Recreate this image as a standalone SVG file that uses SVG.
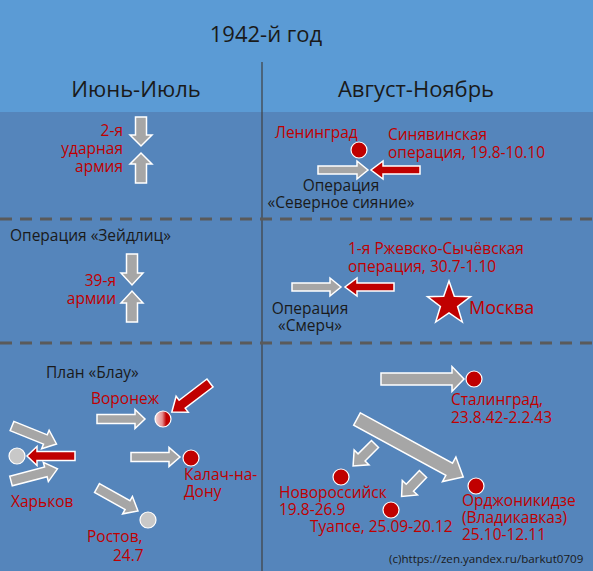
<svg xmlns="http://www.w3.org/2000/svg" width="593" height="571" viewBox="0 0 593 571">
<style>
text{font-family:"Open Sans","DejaVu Sans",sans-serif;font-size:15.5px}
.k{fill:#1a1a1a}
.r{fill:#c00000}
.h{font-size:22px;fill:#1a1a1a}
.g{fill:#a6a6a6;stroke:#fff;stroke-width:1.5}
.rd{fill:#c00000;stroke:#fff;stroke-width:1.5}
.dot{fill:#c00000;stroke:#fff;stroke-width:1.2}
.gdot{fill:#c8c8c8;stroke:#fff;stroke-width:1.2}
.dash{stroke:#5a5a5a;stroke-width:3;stroke-dasharray:12 8;fill:none}
</style>
<defs>
<linearGradient id="vg" x1="0" y1="0" x2="1" y2="0">
<stop offset="0" stop-color="#f6dada"/>
<stop offset="0.45" stop-color="#e59090"/>
<stop offset="0.7" stop-color="#c00000"/>
<stop offset="1" stop-color="#c00000"/>
</linearGradient>
</defs>
<rect x="0" y="0" width="593" height="112" fill="#5b9bd5"/>
<rect x="0" y="112" width="593" height="459" fill="#5585bb"/>
<g id="lines">
<line x1="262" y1="62" x2="262" y2="571" stroke="#404040" stroke-width="1.2"/>
<line class="dash" x1="0" y1="219" x2="593" y2="219"/>
<line class="dash" x1="0" y1="343" x2="593" y2="343"/>
</g>
<g id="header">
<text class="h" x="266" y="42" text-anchor="middle">1942-й год</text>
<text class="h" x="136" y="97" text-anchor="middle">Июнь-Июль</text>
<text class="h" x="416" y="97" text-anchor="middle">Август-Ноябрь</text>
</g>
<g id="connectors">
<path class="g" transform="translate(141,117) rotate(90)" d="M0,-5.5 L18,-5.5 L18,-11 L29,0 L18,11 L18,5.5 L0,5.5 Z"/>
<path class="g" transform="translate(141,183) rotate(-90)" d="M0,-5.5 L19,-5.5 L19,-11 L30,0 L19,11 L19,5.5 L0,5.5 Z"/>
<path class="g" transform="translate(318,170)" d="M0,-4 L39,-4 L39,-9 L50,0 L39,9 L39,4 L0,4 Z"/>
<path class="rd" transform="translate(420,170) rotate(180)" d="M0,-4 L37,-4 L37,-9 L49,0 L37,9 L37,4 L0,4 Z"/>
<path class="g" transform="translate(132,254) rotate(90)" d="M0,-5.5 L19,-5.5 L19,-11 L31,0 L19,11 L19,5.5 L0,5.5 Z"/>
<path class="g" transform="translate(132,322) rotate(-90)" d="M0,-5.5 L19,-5.5 L19,-11 L31,0 L19,11 L19,5.5 L0,5.5 Z"/>
<path class="g" transform="translate(292,287)" d="M0,-4 L38,-4 L38,-9 L49,0 L38,9 L38,4 L0,4 Z"/>
<path class="rd" transform="translate(394,287) rotate(180)" d="M0,-4 L37,-4 L37,-9 L49,0 L37,9 L37,4 L0,4 Z"/>
<path class="g" transform="translate(97,419)" d="M0,-4.5 L38,-4.5 L38,-9.5 L48,0 L38,9.5 L38,4.5 L0,4.5 Z"/>
<path class="rd" transform="translate(210,383) rotate(142.7)" d="M0,-5 L35,-5 L35,-10 L48,0 L35,10 L35,5 L0,5 Z"/>
<path class="rd" transform="translate(75,456) rotate(180)" d="M0,-4.5 L38,-4.5 L38,-9.5 L48,0 L38,9.5 L38,4.5 L0,4.5 Z"/>
<path class="g" transform="translate(12,426) rotate(22)" d="M0,-5 L36,-5 L36,-10 L48,0 L36,10 L36,5 L0,5 Z"/>
<path class="g" transform="translate(11,481) rotate(-14.6)" d="M0,-5 L36,-5 L36,-10 L48,0 L36,10 L36,5 L0,5 Z"/>
<path class="g" transform="translate(131,457)" d="M0,-4.5 L38,-4.5 L38,-9.5 L49,0 L38,9.5 L38,4.5 L0,4.5 Z"/>
<path class="g" transform="translate(97,488) rotate(29.3)" d="M0,-5 L35,-5 L35,-10 L47,0 L35,10 L35,5 L0,5 Z"/>
<path class="g" transform="translate(381,379)" d="M0,-6 L71,-6 L71,-12.5 L83,0 L71,12.5 L71,6 L0,6 Z"/>
<path class="g" transform="translate(357,419) rotate(28.6)" d="M0,-7 L105,-7 L105,-14 L121,0 L105,14 L105,7 L0,7 Z"/>
<path class="g" transform="translate(375,444) rotate(135)" d="M0,-5 L19,-5 L19,-10.5 L31,0 L19,10.5 L19,5 L0,5 Z"/>
<path class="g" transform="translate(423,474) rotate(133.7)" d="M0,-5 L19,-5 L19,-10.5 L31,0 L19,10.5 L19,5 L0,5 Z"/>
</g>
<g id="n-2army">
<text class="r" x="123" y="136" text-anchor="end">2-я</text>
<text class="r" x="123" y="154" text-anchor="end">ударная</text>
<text class="r" x="123" y="172" text-anchor="end">армия</text>
</g>
<g id="n-leningrad">
<text class="r" x="275" y="138">Ленинград</text>
<circle class="dot" cx="359" cy="150" r="8"/>
</g>
<g id="n-sinyavino">
<text class="r" x="388" y="140">Синявинская</text>
<text class="r" x="388" y="158">операция, 19.8-10.10</text>
</g>
<g id="n-nordlicht">
<text class="k" x="341" y="191" text-anchor="middle">Операция</text>
<text class="k" x="341" y="208" text-anchor="middle">«Северное сияние»</text>
</g>
<g id="n-seydlitz">
<text class="k" x="10" y="241">Операция «Зейдлиц»</text>
</g>
<g id="n-39army">
<text class="r" x="116" y="286" text-anchor="end">39-я</text>
<text class="r" x="116" y="304" text-anchor="end">армии</text>
</g>
<g id="n-rzhev">
<text class="r" x="348" y="254">1-я Ржевско-Сычёвская</text>
<text class="r" x="348" y="272">операция, 30.7-1.10</text>
</g>
<g id="n-smerch">
<text class="k" x="310" y="314" text-anchor="middle">Операция</text>
<text class="k" x="310" y="331" text-anchor="middle">«Смерч»</text>
</g>
<g id="n-moscow">
<path class="rd" stroke-width="2" d="M449,281 L454.3,296.3 L470.5,296.7 L457.6,306.5 L462.3,322 L449,312.8 L435.7,322 L440.4,306.5 L427.5,296.7 L443.7,296.3 Z"/>
<text class="r" x="469" y="314" style="font-size:18px">Москва</text>
</g>
<g id="n-blau">
<text class="k" x="46" y="378">План «Блау»</text>
</g>
<g id="n-voronezh">
<text class="r" x="91" y="404">Воронеж</text>
<circle cx="163" cy="419" r="8" fill="url(#vg)" stroke="#fff" stroke-width="1.2"/>
</g>
<g id="n-kharkov">
<circle class="gdot" cx="17" cy="456" r="8"/>
<text class="r" x="11" y="507">Харьков</text>
</g>
<g id="n-kalach">
<circle class="dot" cx="191" cy="458" r="8"/>
<text class="r" x="184" y="480">Калач-на-</text>
<text class="r" x="184" y="497">Дону</text>
</g>
<g id="n-rostov">
<circle class="gdot" cx="148" cy="520" r="8"/>
<text class="r" x="87" y="542">Ростов,</text>
<text class="r" x="113" y="561">24.7</text>
</g>
<g id="n-stalingrad">
<circle class="dot" cx="474" cy="379" r="8"/>
<text class="r" x="451" y="405">Сталинград,</text>
<text class="r" x="451" y="423">23.8.42-2.2.43</text>
</g>
<g id="n-novorossiysk">
<circle class="dot" cx="341" cy="477" r="8"/>
<text class="r" x="279" y="498">Новороссийск</text>
<text class="r" x="279" y="515">19.8-26.9</text>
</g>
<g id="n-tuapse">
<circle class="dot" cx="391" cy="510" r="8"/>
<text class="r" x="310" y="532">Туапсе, 25.09-20.12</text>
</g>
<g id="n-ordzhonikidze">
<circle class="dot" cx="476" cy="486" r="8"/>
<text class="r" x="462" y="506">Орджоникидзе</text>
<text class="r" x="462" y="523">(Владикавказ)</text>
<text class="r" x="462" y="540">25.10-12.11</text>
</g>
<g id="credit">
<text class="k" x="389" y="563" style="font-size:11.6px">(c)https://zen.yandex.ru/barkut0709</text>
</g>
</svg>
